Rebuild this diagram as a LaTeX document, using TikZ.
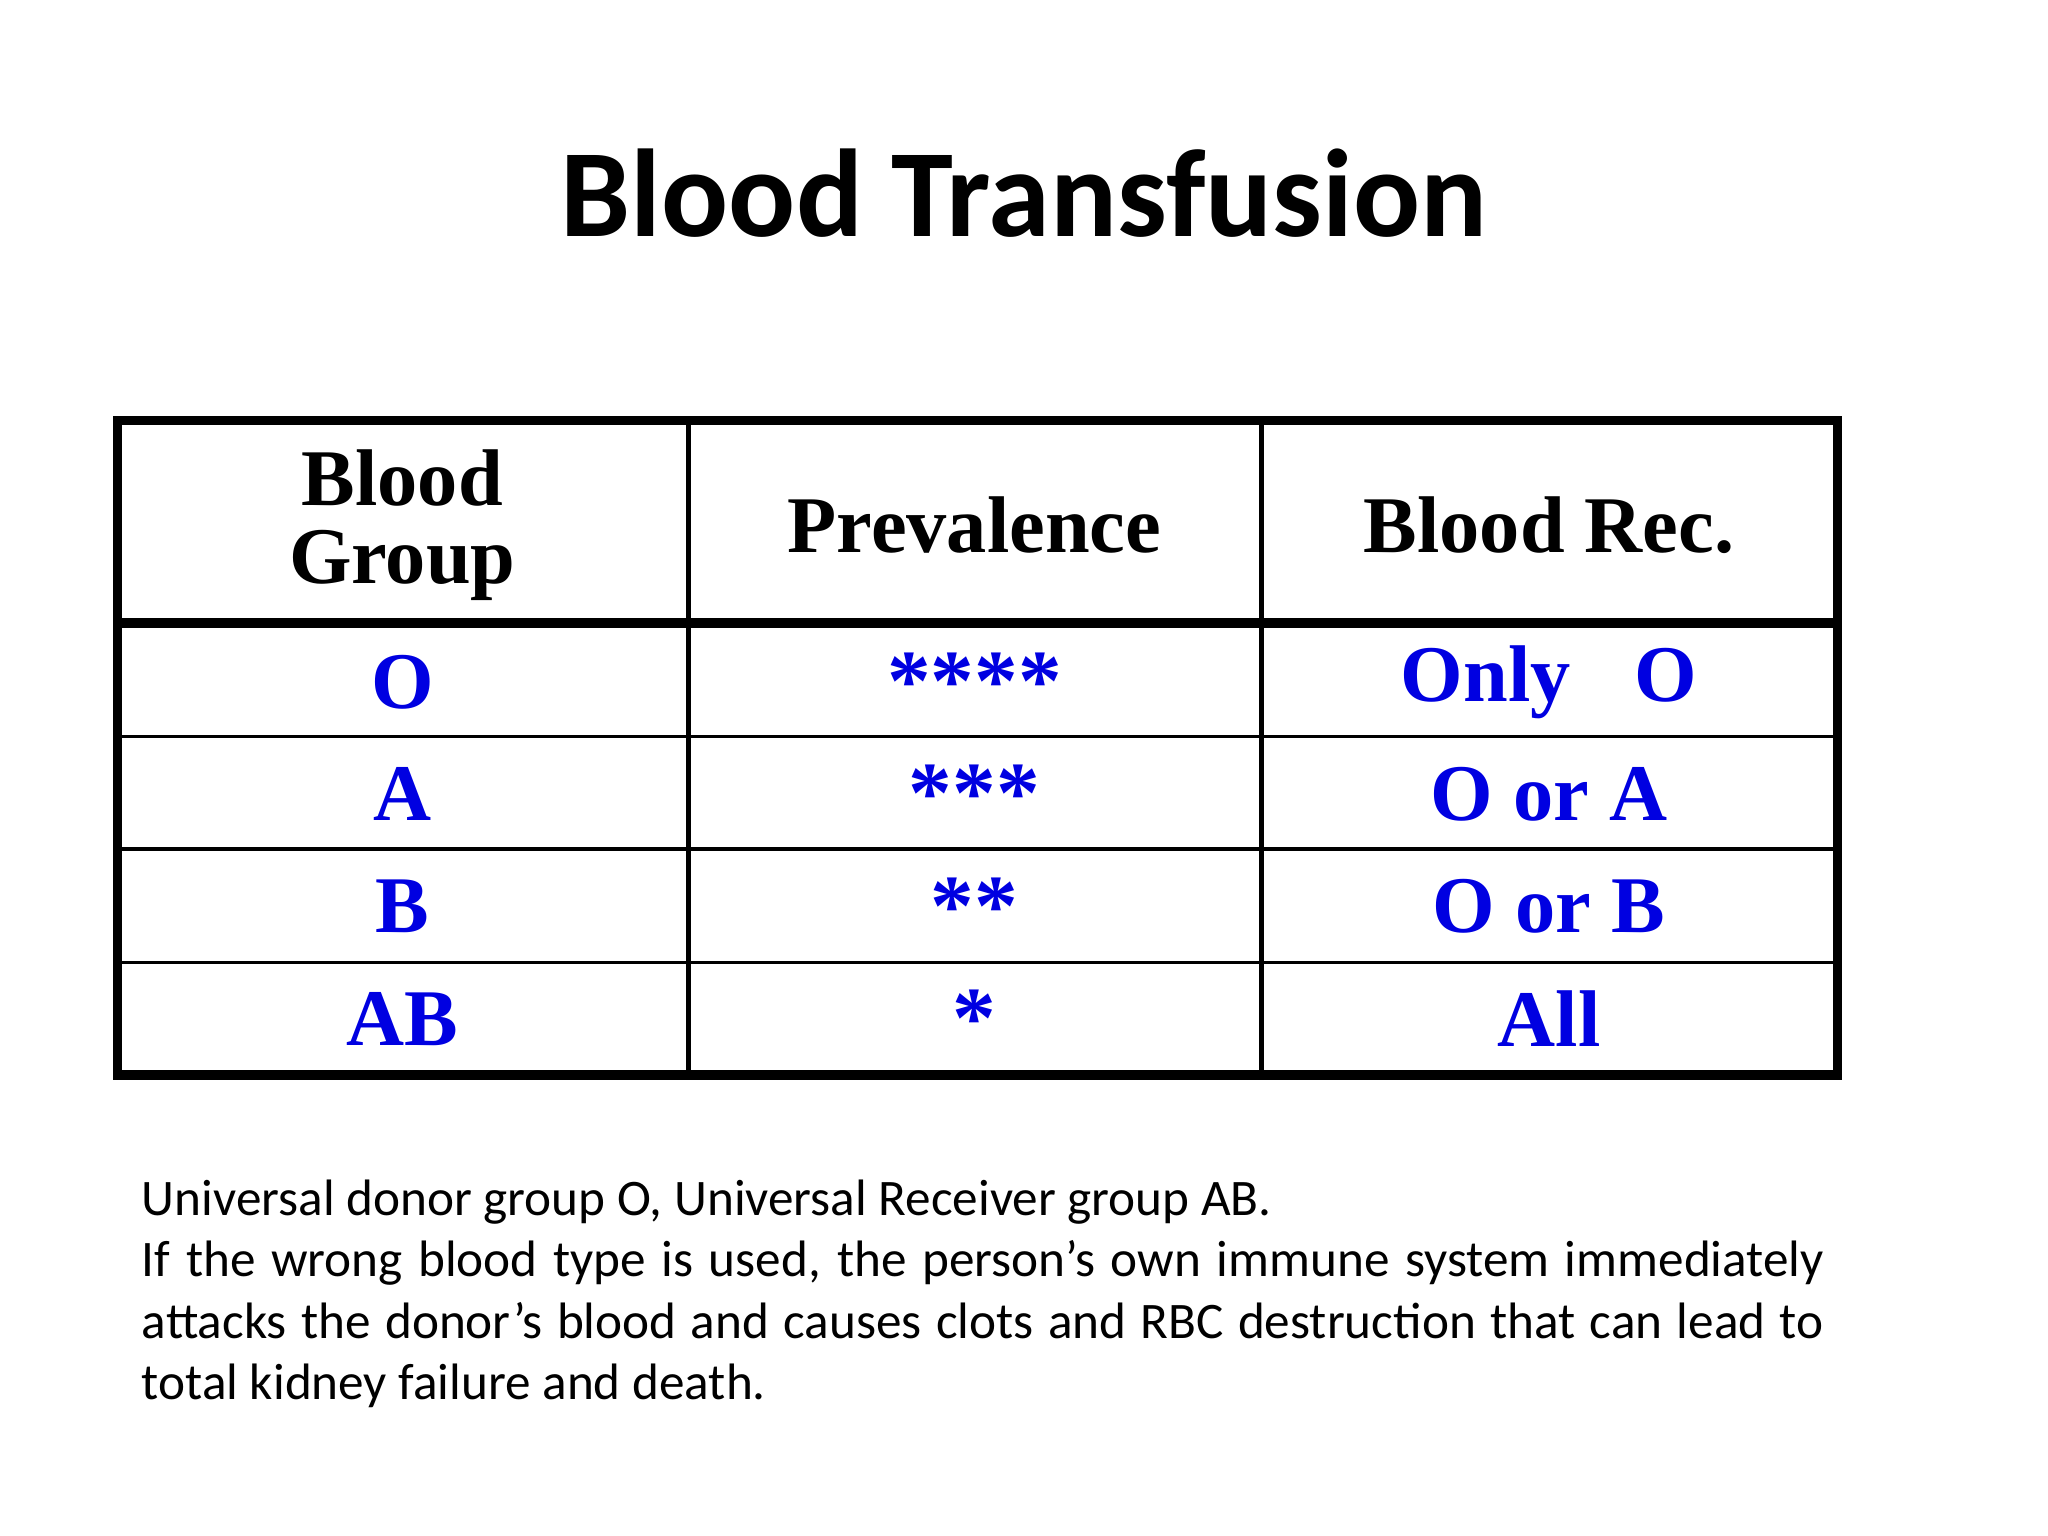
\documentclass[tikz,border=0pt]{standalone}
\usepackage{fontspec}
\setmainfont{Carlito}
\newfontfamily\tabfont{Liberation Serif}
\definecolor{tblue}{RGB}{0,0,225}
\begin{document}
\begin{tikzpicture}[x=0.01cm,y=-0.01cm,
  hdr/.style={font=\tabfont\bfseries\fontsize{17.5}{19}\selectfont,align=center},
  cell/.style={font=\tabfont\bfseries\fontsize{17.5}{19}\selectfont,text=tblue},
  star/.style={font=\tabfont\bfseries\fontsize{19}{19}\selectfont,text=tblue}]
\useasboundingbox (0,0) rectangle (1568,1176);
\node[font=\bfseries\fontsize{27.2}{32}\selectfont] (title) at (784,148) {Blood Transfusion};
% table lines
\draw[line width=2pt] (90,322) rectangle (1407,823);
\draw[line width=2.2pt] (90,477) -- (1407,477);
\foreach \y in {564,650,737} \draw[line width=0.8pt] (90,\y) -- (1407,\y);
\foreach \x in {527,966} \draw[line width=1pt] (\x,322) -- (\x,823);
% header
\node[hdr] (h1) at (308,402) {Blood\\[-2pt]Group};
\node[hdr] (h2) at (746,402) {Prevalence};
\node[hdr] (h3) at (1186,402) {Blood Rec.};
% rows
\node[cell] (r1a) at (308,522) {O};
\node[star] (r1b) at (746,522) {****};
\node[cell] (r1c) at (1186,522) {Only\hspace{0.8em}O};
\node[cell] (r2a) at (308,608) {A};
\node[star] (r2b) at (746,608) {***};
\node[cell] (r2c) at (1186,608) {O or A};
\node[cell] (r3a) at (308,694) {B};
\node[star] (r3b) at (746,694) {**};
\node[cell] (r3c) at (1186,694) {O or B};
\node[cell] (r4a) at (308,780) {AB};
\node[star] (r4b) at (746,780) {*};
\node[cell] (r4c) at (1186,780) {All};
% bottom text
\node[anchor=north west,inner sep=0pt,text width=12.87cm,align=justify,
  font=\fontsize{11.15}{13.3}\selectfont] (txt) at (108,903)
 {\hyphenpenalty=10000\exhyphenpenalty=10000 Universal donor group O, Universal Receiver group AB.\\
 If the wrong blood type is used, the person’s own immune system immediately attacks the donor’s blood and causes clots and RBC destruction that can lead to total kidney failure and death.};
\end{tikzpicture}
\end{document}
